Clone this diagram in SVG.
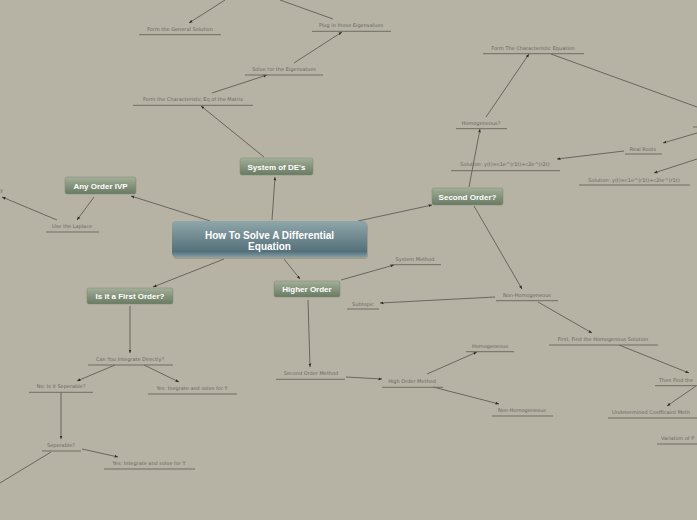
<svg xmlns="http://www.w3.org/2000/svg" width="697" height="520" viewBox="0 0 697 520">
<style>
.lbl{font-family:"DejaVu Sans",Verdana,sans-serif;font-size:5px;fill:#6a685e;text-anchor:middle}
.lbs{font-family:"DejaVu Sans",Verdana,sans-serif;font-size:5px;fill:#6a685e}
.ul{stroke:#6f6d63;stroke-width:1}
.c{stroke:#46453f;stroke-width:0.7;fill:none;marker-end:url(#ah)}
.cn{stroke:#46453f;stroke-width:0.7;fill:none}
.bt{font-family:"Liberation Sans",Arial,sans-serif;font-weight:bold;font-size:8px;fill:#ffffff;text-anchor:middle}
.ct{font-family:"Liberation Sans",Arial,sans-serif;font-weight:bold;font-size:10px;fill:#ffffff;text-anchor:middle}
.gb{fill:url(#gg);stroke:#7c8a72;stroke-width:0.5}
</style>
<defs>
<linearGradient id="gg" x1="0" y1="0" x2="0" y2="1">
<stop offset="0" stop-color="#a3af98"/>
<stop offset="1" stop-color="#6a7a62"/>
</linearGradient>
<linearGradient id="gc" x1="0" y1="0" x2="0" y2="1">
<stop offset="0" stop-color="#8ea7aa"/>
<stop offset="0.85" stop-color="#56707a"/>
<stop offset="1" stop-color="#7e9ea6"/>
</linearGradient>
<marker id="ah" markerWidth="4" markerHeight="4" refX="3.5" refY="2" orient="auto" markerUnits="userSpaceOnUse">
<path d="M0,0.6 L3.5,2 L0,3.4 Z" fill="#2e2d29"/>
</marker>
</defs>
<rect width="697" height="520" fill="#b6b3a5"/>
<g id="connectors">
<line class="c" x1="225" y1="0" x2="189" y2="23"/>
<line class="cn" x1="280" y1="0" x2="333" y2="19"/>
<line class="c" x1="294" y1="63" x2="342" y2="32"/>
<line class="c" x1="212" y1="93" x2="267" y2="75"/>
<line class="c" x1="264" y1="157" x2="201" y2="106"/>
<line class="c" x1="272" y1="220" x2="275" y2="177"/>
<line class="c" x1="210" y1="221" x2="131" y2="196"/>
<line class="c" x1="94" y1="197" x2="77" y2="220"/>
<line class="c" x1="57" y1="220" x2="2" y2="197"/>
<line class="c" x1="358" y1="221" x2="432" y2="205"/>
<line class="c" x1="469" y1="187" x2="480" y2="129"/>
<line class="c" x1="486" y1="117" x2="529" y2="54"/>
<line class="cn" x1="551" y1="54" x2="697" y2="107"/>
<line class="c" x1="697" y1="133" x2="663" y2="143"/>
<line class="c" x1="624" y1="151" x2="557" y2="159"/>
<line class="c" x1="697" y1="159" x2="654" y2="173"/>
<line class="c" x1="474" y1="206" x2="522" y2="289"/>
<line class="c" x1="495" y1="297" x2="380" y2="303"/>
<line class="c" x1="538" y1="302" x2="592" y2="333"/>
<line class="c" x1="619" y1="345" x2="689" y2="373"/>
<line class="c" x1="696" y1="386" x2="667" y2="406"/>
<line class="c" x1="284" y1="259" x2="300" y2="279"/>
<line class="c" x1="341" y1="280" x2="394" y2="265"/>
<line class="c" x1="308" y1="300" x2="310" y2="367"/>
<line class="c" x1="346" y1="377" x2="382" y2="379"/>
<line class="c" x1="427" y1="374" x2="477" y2="352"/>
<line class="c" x1="433" y1="387" x2="499" y2="404"/>
<line class="c" x1="224" y1="259" x2="153" y2="287"/>
<line class="c" x1="130" y1="306" x2="130" y2="353"/>
<line class="c" x1="115" y1="365" x2="77" y2="381"/>
<line class="c" x1="144" y1="365" x2="179" y2="382"/>
<line class="c" x1="61" y1="393" x2="61" y2="439"/>
<line class="c" x1="82" y1="449" x2="118" y2="457"/>
<line class="cn" x1="51" y1="452" x2="0" y2="483"/>
</g>
<g id="central">
<rect x="173" y="223" width="195" height="36" rx="4" fill="#6f6d63" opacity="0.35"/>
<rect x="172" y="221" width="195" height="36" rx="4" fill="url(#gc)"/>
<text class="ct" x="269.5" y="238.5">How To Solve A Differential</text>
<text class="ct" x="269.5" y="249.5">Equation</text>
</g>
<g id="system-des">
<rect class="gb" x="240" y="158" width="73" height="17" rx="2"/>
<text class="bt" x="276.5" y="169.8">System of DE's</text>
</g>
<g id="any-order-ivp">
<rect class="gb" x="65" y="177" width="71" height="17" rx="2"/>
<text class="bt" x="100.5" y="188.8">Any Order IVP</text>
</g>
<g id="second-order">
<rect class="gb" x="432" y="188" width="71" height="17" rx="2"/>
<text class="bt" x="467.5" y="199.8">Second Order?</text>
</g>
<g id="higher-order">
<rect class="gb" x="274" y="281" width="66" height="16" rx="2"/>
<text class="bt" x="307" y="292.3">Higher Order</text>
</g>
<g id="first-order">
<rect class="gb" x="87" y="288" width="86" height="16" rx="2"/>
<text class="bt" x="130" y="299.3">Is it a First Order?</text>
</g>
<g id="general-solution"><text class="lbl" x="180" y="31">Form the General Solution</text><line class="ul" x1="139" y1="34.7" x2="221" y2="34.7"/></g>
<g id="plug-eigen"><text class="lbl" x="351" y="27.4">Plug in those Eigenvalues</text><line class="ul" x1="312" y1="31.3" x2="391" y2="31.3"/></g>
<g id="solve-eigen"><text class="lbl" x="284" y="71">Solve for the Eigenvalues</text><line class="ul" x1="245" y1="75" x2="323" y2="75"/></g>
<g id="char-eq-matrix"><text class="lbl" x="193" y="101">Form the Characteristic Eq of the Matrix</text><line class="ul" x1="133" y1="105.3" x2="253" y2="105.3"/></g>
<g id="laplace"><text class="lbl" x="72" y="227.8">Use the Laplace</text><line class="ul" x1="46" y1="232" x2="99" y2="232"/></g>
<g id="offscreen-left"><text class="lbs" x="0" y="191.5">y</text></g>
<g id="homogeneous-q"><text class="lbl" x="481" y="125">Homogeneous?</text><line class="ul" x1="456" y1="128.7" x2="507" y2="128.7"/></g>
<g id="form-char-eq"><text class="lbl" x="533" y="50">Form The Characteristic Equation</text><line class="ul" x1="483" y1="53.7" x2="584" y2="53.7"/></g>
<g id="right-node"><line class="ul" x1="693" y1="127" x2="697" y2="127"/></g>
<g id="real-roots"><text class="lbl" x="643" y="150.8">Real Roots</text><line class="ul" x1="625" y1="154" x2="662" y2="154"/></g>
<g id="solution-1"><text class="lbl" x="505" y="166.4">Solution: y(t)=c1e^(r1t)+c2e^(r2t)</text><line class="ul" x1="451" y1="170.7" x2="560" y2="170.7"/></g>
<g id="solution-2"><text class="lbl" x="634" y="181.7">Solution: y(t)=c1e^(r1t)+c2te^(r1t)</text><line class="ul" x1="579" y1="185" x2="690" y2="185"/></g>
<g id="non-homogeneous-1"><text class="lbl" x="527" y="296.7">Non-Homogeneous</text><line class="ul" x1="496" y1="300.7" x2="558" y2="300.7"/></g>
<g id="subtopic"><text class="lbl" x="363" y="305.7">Subtopic</text><line class="ul" x1="347" y1="309" x2="379" y2="309"/></g>
<g id="first-find"><text class="lbl" x="603" y="341">First, Find the Homogenous Solution</text><line class="ul" x1="549" y1="345" x2="658" y2="345"/></g>
<g id="then-find"><text class="lbs" x="659" y="381.7">Then Find the</text><line class="ul" x1="655" y1="385.7" x2="697" y2="385.7"/></g>
<g id="undetermined"><text class="lbs" x="612" y="414.4">Undetermined Coefficaint Meth</text><line class="ul" x1="608" y1="418" x2="697" y2="418"/></g>
<g id="variation"><text class="lbs" x="661" y="440">Variation of P</text><line class="ul" x1="657" y1="444" x2="697" y2="444"/></g>
<g id="system-method"><text class="lbl" x="415" y="260.7">System Method</text><line class="ul" x1="392" y1="264.7" x2="441" y2="264.7"/></g>
<g id="second-order-method"><text class="lbl" x="311" y="375.4">Second Order Method</text><line class="ul" x1="276" y1="379.3" x2="345" y2="379.3"/></g>
<g id="high-order-method"><text class="lbl" x="412" y="383.4">High Order Method</text><line class="ul" x1="382" y1="387.3" x2="443" y2="387.3"/></g>
<g id="homogeneous"><text class="lbl" x="490" y="348.4">Homogeneous</text><line class="ul" x1="466" y1="351.7" x2="514" y2="351.7"/></g>
<g id="non-homogeneous-2"><text class="lbl" x="522" y="412.4">Non-Homogeneous</text><line class="ul" x1="492" y1="416" x2="553" y2="416"/></g>
<g id="integrate-directly"><text class="lbl" x="130" y="361">Can You Integrate Directly?</text><line class="ul" x1="88" y1="365" x2="173" y2="365"/></g>
<g id="no-seperable"><text class="lbl" x="61" y="388.4">No: Is it Seperable?</text><line class="ul" x1="29" y1="392.3" x2="93" y2="392.3"/></g>
<g id="yes-inegrate"><text class="lbl" x="192" y="390">Yes: Inegrate and solve for Y</text><line class="ul" x1="148" y1="394" x2="237" y2="394"/></g>
<g id="seperable"><text class="lbl" x="61" y="447.4">Seperable?</text><line class="ul" x1="42" y1="451" x2="81" y2="451"/></g>
<g id="yes-integrate"><text class="lbl" x="149" y="465">Yes: Integrate and solve for Y</text><line class="ul" x1="104" y1="469" x2="195" y2="469"/></g>
</svg>
